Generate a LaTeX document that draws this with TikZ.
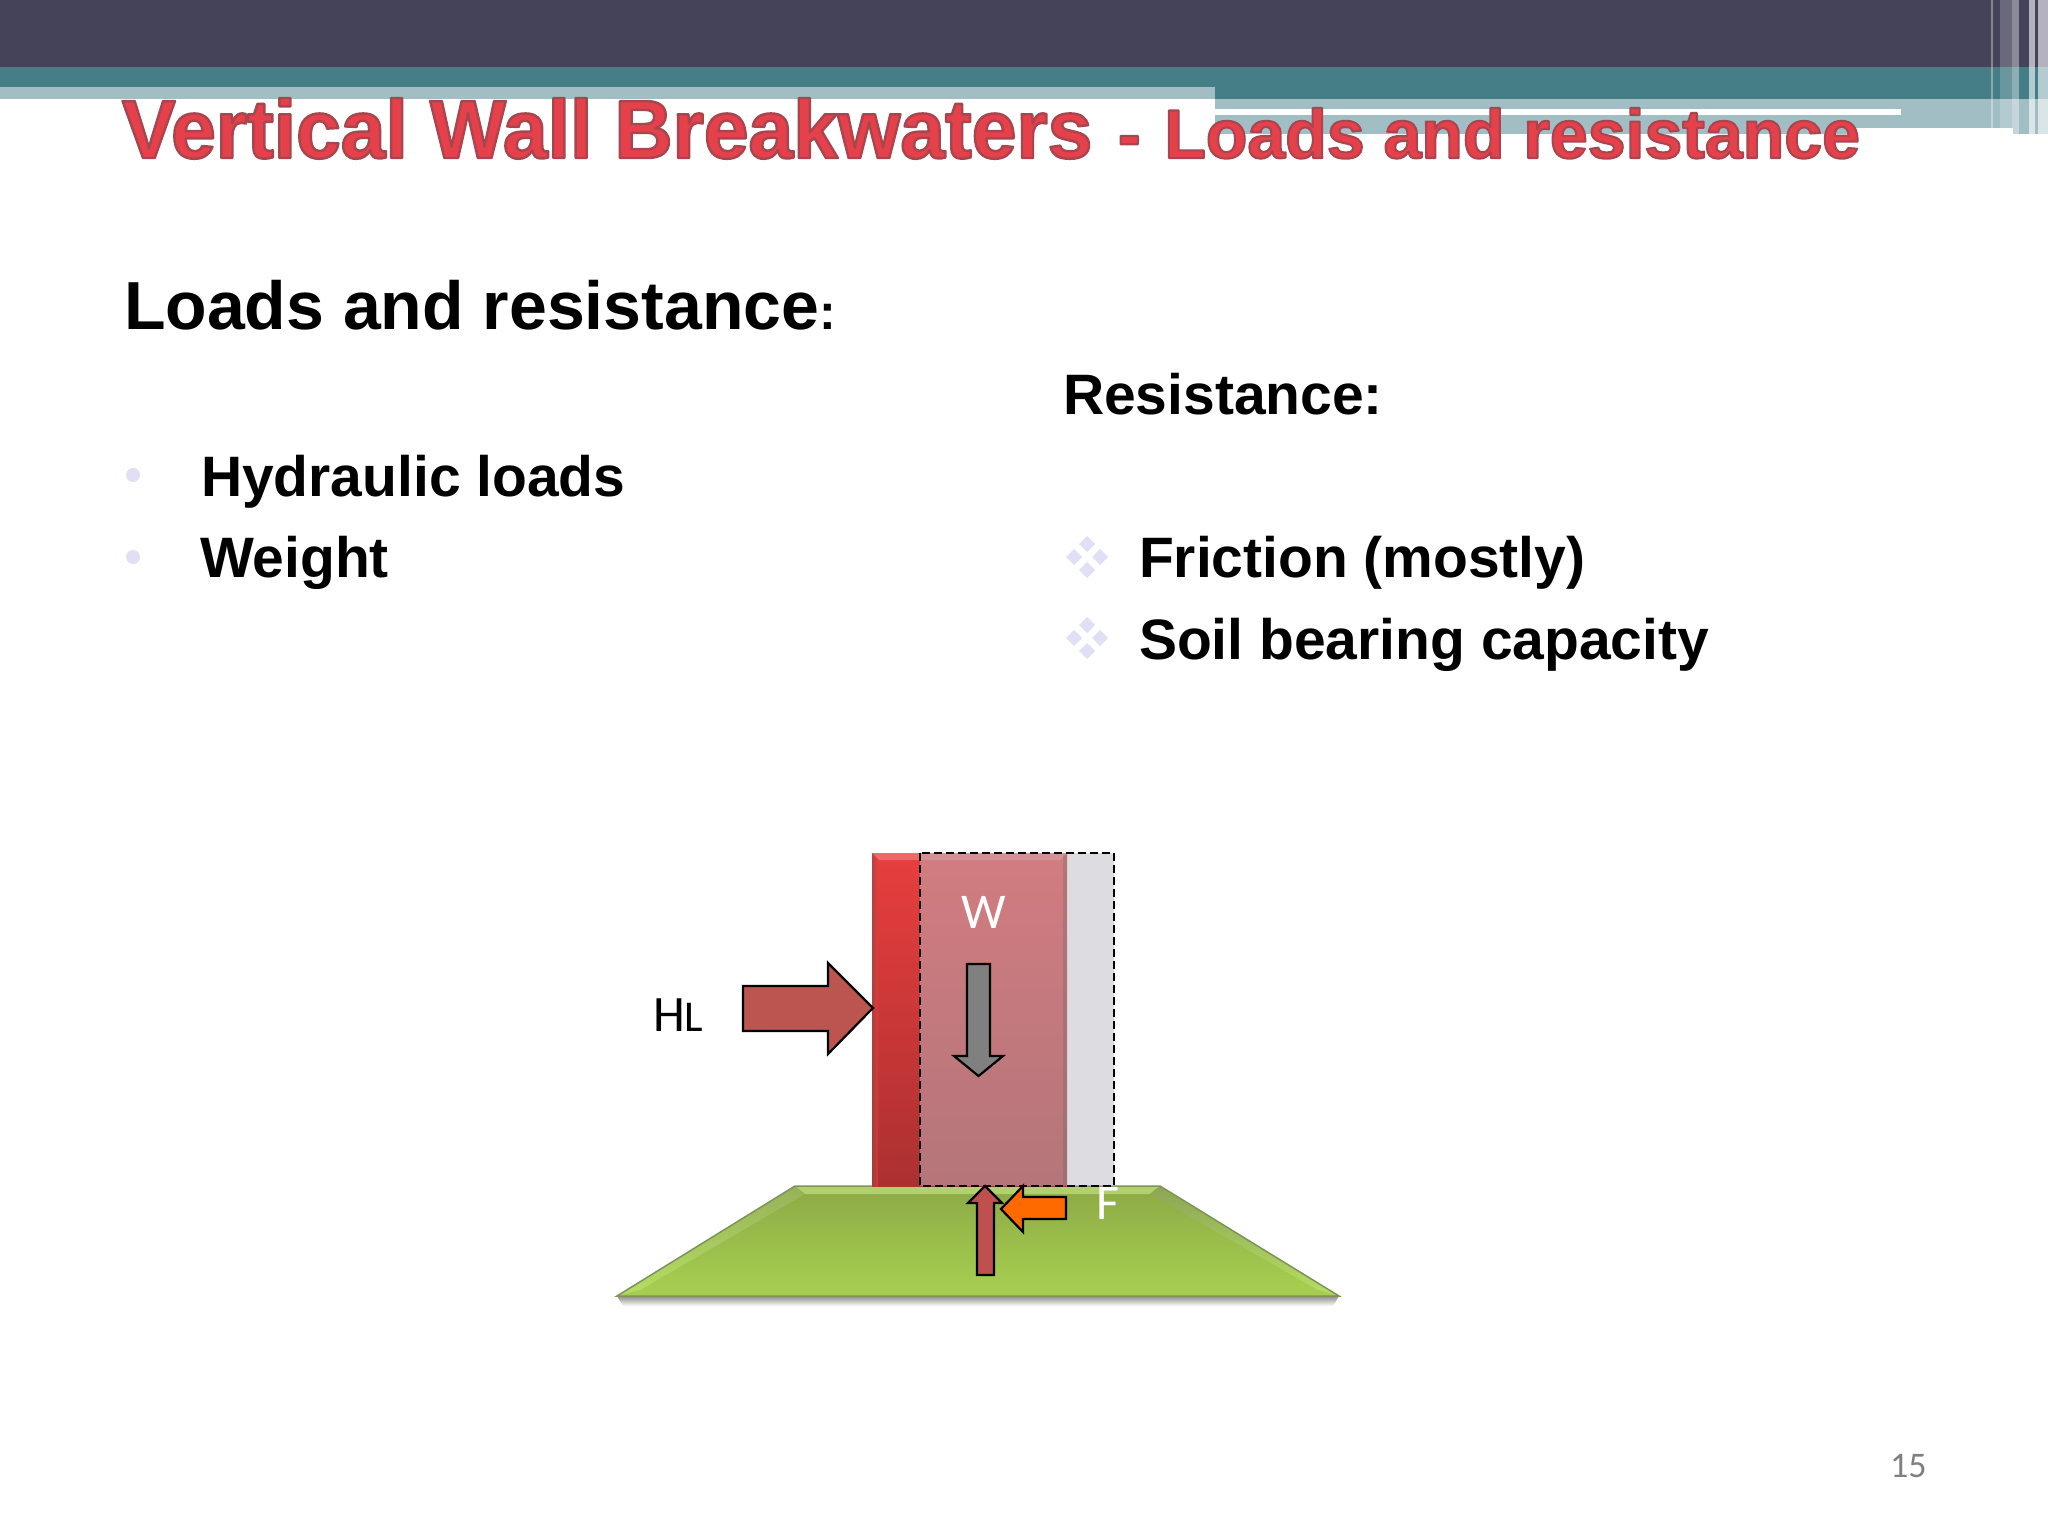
\documentclass[tikz,border=0pt]{standalone}
\usepackage{fontspec}
\setmainfont{Liberation Sans}
\newfontfamily\calfont{Carlito}
\usetikzlibrary{calc}
\definecolor{barDark}{HTML}{45435A}
\definecolor{barTeal}{HTML}{457E87}
\definecolor{barLight}{HTML}{A1BEC5}
\definecolor{bulletC}{HTML}{E0DFF5}
\definecolor{titleRed}{HTML}{E6414B}
\definecolor{loadRed}{HTML}{BC5450}
\definecolor{upRed}{HTML}{C0504D}
\definecolor{grayArrow}{HTML}{808080}
\definecolor{fricOrange}{HTML}{FF6A00}
\definecolor{overlayC}{HTML}{BDBBC4}
\definecolor{greenTop}{RGB}{140,170,70}
\definecolor{greenBot}{RGB}{168,208,80}
\definecolor{greenBevT}{RGB}{178,208,110}
\definecolor{greenBevA}{RGB}{150,178,90}
\definecolor{greenBevB}{RGB}{182,222,100}
\definecolor{greenBevC}{RGB}{140,165,85}
\definecolor{greenBevD}{RGB}{165,205,80}
\definecolor{greenEdge}{RGB}{125,148,85}
\definecolor{wallTop}{RGB}{232,62,62}
\definecolor{wallBot}{RGB}{172,48,48}
\definecolor{wallEdge}{RGB}{150,70,70}
\definecolor{wallLight}{RGB}{238,105,105}
\newcommand{\fsz}[1]{\fontsize{#1}{#1}\selectfont}
\newcommand{\strokeon}{\special{pdf:code q 2 Tr 0.3 w 1 j 0.66 0.27 0.31 RG}}
\newcommand{\strokeoff}{\special{pdf:code Q}}
\tikzset{
  x=1pt,y=-1pt,
  txt/.style={inner sep=0pt,outer sep=0pt,anchor=base west},
  bodytxt/.style={txt,font=\bfseries\fsz{57},text=black},
  forcearrow/.style={draw=black,line width=2.2pt,line join=miter},
  diamondbit/.style={fill=bulletC,draw=none},
  titleA/.style={txt,font=\bfseries,text=titleRed},
  wlabel/.style={txt,font=\calfont\fsz{50},text=white},
}
\newcommand{\diamonds}[2]{%
  \foreach \dx/\dy in {0/-13,-13/0,13/0,0/13}{
    \fill[diamondbit] ($(#1,#2)+(\dx,\dy)+(0,-8)$) -- ++(8,8) -- ++(-8,8) -- ++(-8,-8) -- cycle;
  }}
\begin{document}
\begin{tikzpicture}
\useasboundingbox (0,0) rectangle (2048,1536);
\fill[white] (0,0) rectangle (2048,1536);
% top bars
\fill[barDark] (0,0) rectangle (2048,67);
\fill[barTeal] (0,67) rectangle (2048,99);
\fill[barLight] (0,87) rectangle (1215,99);
\fill[barLight] (1215,99) rectangle (2013,128);
\fill[barLight] (1215,128) rectangle (1856,134);
\fill[white] (1215,109) rectangle (1901,115);
\fill[barLight] (2013,99) rectangle (2048,134);
% right stripes
\fill[white,opacity=.35] (1991,0) rectangle (1993,128);
\fill[white,opacity=.20] (2000,0) rectangle (2012,128);
\fill[white,opacity=.38] (2012,0) rectangle (2019,134);
\fill[white,opacity=.60] (2029,0) rectangle (2035,134);
\fill[white,opacity=.60] (2038,0) rectangle (2048,134);
% title
\node[titleA] (title1) at (122,158) {\resizebox{970pt}{60pt}{\strokeon Vertical Wall Breakwaters\strokeoff}};
\node[titleA] (title2) at (1118,158) {\resizebox{742pt}{50pt}{\strokeon -\hspace{.7pt} Loads and resistance\strokeoff}};
% texts
\node[txt,font=\bfseries\fsz{68}] (head) at (124,329) {Loads and resistance\fsz{50}:};
\node[bodytxt] (res) at (1063,414) {Resistance:};
\fill[bulletC] (133,475) circle (7);
\fill[bulletC] (133,557) circle (7);
\node[bodytxt] (hyd) at (201,496) {Hydraulic loads};
\node[bodytxt] (wei) at (200,577) {Weight};
\diamonds{1087}{557}
\diamonds{1087}{638}
\node[bodytxt] (fri) at (1139,577) {Friction (mostly)};
\node[bodytxt] (soil) at (1139,659) {Soil bearing capacity};
% foundation shadow
\shade[top color=black!45,bottom color=white] (617,1296) -- (1339,1296) -- (1333,1306) -- (623,1306) -- cycle;
% foundation
\shade[top color=greenTop,bottom color=greenBot]
  (795,1186) -- (1160,1186) -- (1339,1296) -- (617,1296) -- cycle;
\fill[greenBevT] (795,1186) -- (1160,1186) -- (1150,1194) -- (805,1194) -- cycle;
\shade[top color=greenBevA,bottom color=greenBevB] (795,1186) -- (805,1194) -- (640,1290) -- (617,1296) -- cycle;
\shade[top color=greenBevC,bottom color=greenBevB] (1160,1186) -- (1150,1194) -- (1318,1290) -- (1339,1296) -- cycle;
\fill[greenBevD] (617,1296) -- (640,1290) -- (1318,1290) -- (1339,1296) -- cycle;
\draw[greenEdge,line width=1.5pt] (795,1186) -- (1160,1186) -- (1339,1296) -- (617,1296) -- cycle;
% wall
\shade[top color=wallTop,bottom color=wallBot] (872,853) rectangle (1067,1186);
\shade[left color=wallEdge,right color=wallTop,opacity=.6] (872,853) rectangle (878,1186);
\fill[wallLight] (872,853) -- (1067,853) -- (1060,860) -- (879,860) -- cycle;
\fill[black,opacity=.25] (1063,855) rectangle (1067,1186);
% dashed overlay
\fill[overlayC,opacity=.5] (920,853) rectangle (1114,1186);
\draw[black,line width=2pt,dash pattern=on 8pt off 4pt] (920,853) rectangle (1114,1186);
% force arrows
\draw[forcearrow,fill=loadRed] (743,986) -- (828,986) -- (828,963) -- (873,1008) -- (828,1054) -- (828,1031) -- (743,1031) -- cycle;
\draw[forcearrow,fill=grayArrow] (967,964) -- (990,964) -- (990,1056) -- (1003,1056) -- (978.5,1076) -- (954,1056) -- (967,1056) -- cycle;
\draw[forcearrow,fill=upRed] (977,1275) -- (977,1203) -- (968,1203) -- (985,1186) -- (1002,1203) -- (994,1203) -- (994,1275) -- cycle;
\draw[forcearrow,fill=fricOrange] (1066,1197) -- (1023,1197) -- (1023,1186) -- (1001,1209) -- (1023,1232) -- (1023,1219) -- (1066,1219) -- cycle;
% labels
\node[txt,font=\calfont\fsz{51},text=black] (hl) at (653,1031) {H\fsz{44}L};
\node[wlabel] (w) at (961,928) {W};
\node[wlabel] (f) at (1096,1219) {F};
\node[txt,font=\calfont\fsz{36},text=black!50] (pg) at (1890,1477) {15};
\end{tikzpicture}
\end{document}
